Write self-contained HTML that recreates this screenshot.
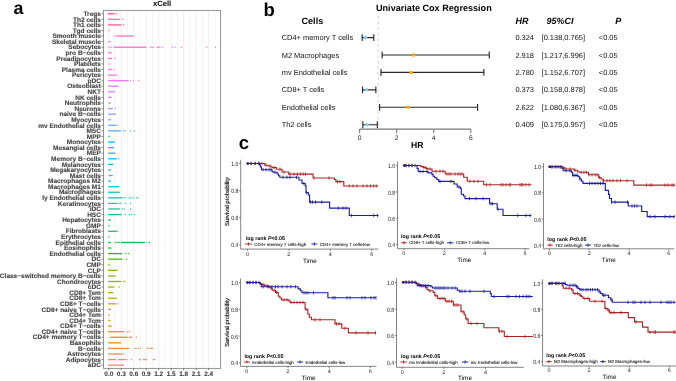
<!DOCTYPE html>
<html><head><meta charset="utf-8"><style>
html,body{margin:0;padding:0;background:#fff;overflow:hidden}
svg{display:block;will-change:transform}
text{text-rendering:geometricPrecision}
</style></head><body>
<svg width="676" height="381" viewBox="0 0 676 381">
<rect width="676" height="381" fill="#fff"/>
<g opacity="0.995">
<text x="13.5" y="13.7" font-size="17.8" font-weight="bold" font-family="Liberation Sans, sans-serif" fill="#000">a</text>
<text x="162.1" y="6.0" font-size="7.65" font-weight="bold" text-anchor="middle" font-family="Liberation Sans, sans-serif" fill="#000">xCell</text>
<line x1="108.80" y1="10.4" x2="108.80" y2="368.4" stroke="#EBEBEB" stroke-width="0.8"/><line x1="115.04" y1="10.4" x2="115.04" y2="368.4" stroke="#EBEBEB" stroke-width="0.5"/><line x1="121.28" y1="10.4" x2="121.28" y2="368.4" stroke="#EBEBEB" stroke-width="0.8"/><line x1="127.52" y1="10.4" x2="127.52" y2="368.4" stroke="#EBEBEB" stroke-width="0.5"/><line x1="133.76" y1="10.4" x2="133.76" y2="368.4" stroke="#EBEBEB" stroke-width="0.8"/><line x1="140.00" y1="10.4" x2="140.00" y2="368.4" stroke="#EBEBEB" stroke-width="0.5"/><line x1="146.24" y1="10.4" x2="146.24" y2="368.4" stroke="#EBEBEB" stroke-width="0.8"/><line x1="152.48" y1="10.4" x2="152.48" y2="368.4" stroke="#EBEBEB" stroke-width="0.5"/><line x1="158.72" y1="10.4" x2="158.72" y2="368.4" stroke="#EBEBEB" stroke-width="0.8"/><line x1="164.96" y1="10.4" x2="164.96" y2="368.4" stroke="#EBEBEB" stroke-width="0.5"/><line x1="171.20" y1="10.4" x2="171.20" y2="368.4" stroke="#EBEBEB" stroke-width="0.8"/><line x1="177.44" y1="10.4" x2="177.44" y2="368.4" stroke="#EBEBEB" stroke-width="0.5"/><line x1="183.68" y1="10.4" x2="183.68" y2="368.4" stroke="#EBEBEB" stroke-width="0.8"/><line x1="189.92" y1="10.4" x2="189.92" y2="368.4" stroke="#EBEBEB" stroke-width="0.5"/><line x1="196.16" y1="10.4" x2="196.16" y2="368.4" stroke="#EBEBEB" stroke-width="0.8"/><line x1="202.40" y1="10.4" x2="202.40" y2="368.4" stroke="#EBEBEB" stroke-width="0.5"/><line x1="208.64" y1="10.4" x2="208.64" y2="368.4" stroke="#EBEBEB" stroke-width="0.8"/><line x1="214.88" y1="10.4" x2="214.88" y2="368.4" stroke="#EBEBEB" stroke-width="0.5"/>
<rect x="108" y="13.10" width="6.50" height="1.3" fill="#F2457F" opacity="0.92"/>
<rect x="115.70" y="13.10" width="1.2" height="1.3" fill="#F2457F" opacity="0.85"/>
<rect x="108" y="18.68" width="11.90" height="1.3" fill="#F36C9E" opacity="0.92"/>
<rect x="122.30" y="18.68" width="1.2" height="1.3" fill="#F36C9E" opacity="0.85"/>
<rect x="108" y="24.26" width="13.60" height="1.3" fill="#F0508A" opacity="0.92"/>
<rect x="123.00" y="24.26" width="1.2" height="1.3" fill="#F0508A" opacity="0.85"/>
<rect x="108.3" y="29.83" width="1.10" height="1.3" fill="#FF68A1" opacity="0.92"/>
<rect x="115.8" y="35.41" width="17.70" height="1.3" fill="#FF65AD" opacity="0.92"/>
<rect x="113.90" y="35.41" width="1.2" height="1.3" fill="#FF65AD" opacity="0.85"/>
<rect x="108.3" y="40.99" width="2.20" height="1.3" fill="#FF63B8" opacity="0.92"/>
<rect x="113.6" y="46.57" width="32.90" height="1.3" fill="#FF61C2" opacity="0.92"/>
<rect x="108.60" y="46.57" width="1.2" height="1.3" fill="#FF61C2" opacity="0.85"/>
<rect x="110.70" y="46.57" width="1.2" height="1.3" fill="#FF61C2" opacity="0.85"/>
<rect x="150.00" y="46.57" width="1.2" height="1.3" fill="#FF61C2" opacity="0.85"/>
<rect x="151.40" y="46.57" width="1.2" height="1.3" fill="#FF61C2" opacity="0.85"/>
<rect x="153.00" y="46.57" width="1.2" height="1.3" fill="#FF61C2" opacity="0.85"/>
<rect x="156.50" y="46.57" width="1.2" height="1.3" fill="#FF61C2" opacity="0.85"/>
<rect x="157.90" y="46.57" width="1.2" height="1.3" fill="#FF61C2" opacity="0.85"/>
<rect x="159.20" y="46.57" width="1.2" height="1.3" fill="#FF61C2" opacity="0.85"/>
<rect x="161.90" y="46.57" width="1.2" height="1.3" fill="#FF61C2" opacity="0.85"/>
<rect x="171.60" y="46.57" width="1.2" height="1.3" fill="#FF61C2" opacity="0.85"/>
<rect x="174.30" y="46.57" width="1.2" height="1.3" fill="#FF61C2" opacity="0.85"/>
<rect x="181.00" y="46.57" width="1.2" height="1.3" fill="#FF61C2" opacity="0.85"/>
<rect x="206.30" y="46.57" width="1.2" height="1.3" fill="#FF61C2" opacity="0.85"/>
<rect x="214.80" y="46.57" width="1.2" height="1.3" fill="#FF61C2" opacity="0.85"/>
<rect x="108.3" y="52.15" width="3.40" height="1.3" fill="#FF61CC" opacity="0.92"/>
<rect x="108.3" y="57.72" width="3.90" height="1.3" fill="#FC61D5" opacity="0.92"/>
<rect x="114.50" y="57.72" width="1.2" height="1.3" fill="#FC61D5" opacity="0.85"/>
<rect x="108.3" y="63.30" width="1.40" height="1.3" fill="#F862DE" opacity="0.92"/>
<rect x="108.3" y="68.88" width="3.60" height="1.3" fill="#F365E6" opacity="0.92"/>
<rect x="113.10" y="68.88" width="1.2" height="1.3" fill="#F365E6" opacity="0.85"/>
<rect x="108.3" y="74.46" width="8.50" height="1.3" fill="#ED68ED" opacity="0.92"/>
<rect x="108.3" y="80.04" width="20.40" height="1.3" fill="#E66CF4" opacity="0.92"/>
<rect x="129.90" y="80.04" width="1.2" height="1.3" fill="#E66CF4" opacity="0.85"/>
<rect x="132.90" y="80.04" width="1.2" height="1.3" fill="#E66CF4" opacity="0.85"/>
<rect x="137.90" y="80.04" width="1.2" height="1.3" fill="#E66CF4" opacity="0.85"/>
<rect x="108.3" y="85.61" width="10.30" height="1.3" fill="#DD71FA" opacity="0.92"/>
<rect x="108.3" y="91.19" width="6.70" height="1.3" fill="#D376FF" opacity="0.92"/>
<rect x="108.3" y="96.77" width="3.60" height="1.3" fill="#C77CFF" opacity="0.92"/>
<rect x="108.3" y="102.35" width="2.70" height="1.3" fill="#BA82FF" opacity="0.92"/>
<rect x="108.3" y="107.93" width="4.50" height="1.3" fill="#AA88FF" opacity="0.92"/>
<rect x="114.80" y="107.93" width="1.2" height="1.3" fill="#AA88FF" opacity="0.85"/>
<rect x="108.3" y="113.50" width="7.50" height="1.3" fill="#998EFF" opacity="0.92"/>
<rect x="108.3" y="119.08" width="2.70" height="1.3" fill="#8494FF" opacity="0.92"/>
<rect x="108.3" y="124.66" width="8.00" height="1.3" fill="#6B9AFF" opacity="0.92"/>
<rect x="117.00" y="124.66" width="1.2" height="1.3" fill="#6B9AFF" opacity="0.85"/>
<rect x="108.3" y="130.24" width="12.50" height="1.3" fill="#49A0FF" opacity="0.92"/>
<rect x="122.80" y="130.24" width="1.2" height="1.3" fill="#49A0FF" opacity="0.85"/>
<rect x="124.60" y="130.24" width="1.2" height="1.3" fill="#49A0FF" opacity="0.85"/>
<rect x="129.90" y="130.24" width="1.2" height="1.3" fill="#49A0FF" opacity="0.85"/>
<rect x="134.00" y="130.24" width="1.2" height="1.3" fill="#49A0FF" opacity="0.85"/>
<rect x="108.3" y="135.82" width="1.40" height="1.3" fill="#00A5FF" opacity="0.92"/>
<rect x="108.3" y="141.39" width="6.80" height="1.3" fill="#00A9FF" opacity="0.92"/>
<rect x="108.3" y="146.97" width="5.70" height="1.3" fill="#00AEFA" opacity="0.92"/>
<rect x="108.3" y="152.55" width="6.80" height="1.3" fill="#00B1F4" opacity="0.92"/>
<rect x="108.3" y="158.13" width="8.50" height="1.3" fill="#00B5EE" opacity="0.92"/>
<rect x="118.00" y="158.13" width="1.2" height="1.3" fill="#00B5EE" opacity="0.85"/>
<rect x="108.3" y="163.71" width="5.00" height="1.3" fill="#00B8E7" opacity="0.92"/>
<rect x="108.3" y="169.28" width="2.70" height="1.3" fill="#00BADF" opacity="0.92"/>
<rect x="108.9" y="174.86" width="3.90" height="1.3" fill="#00BCD7" opacity="0.92"/>
<rect x="108.3" y="180.44" width="2.70" height="1.3" fill="#00BECE" opacity="0.92"/>
<rect x="108.3" y="186.02" width="11.00" height="1.3" fill="#00BFC4" opacity="0.92"/>
<rect x="108.3" y="191.60" width="11.60" height="1.3" fill="#00C0BB" opacity="0.92"/>
<rect x="108.3" y="197.17" width="14.20" height="1.3" fill="#00C0B0" opacity="0.92"/>
<rect x="123.40" y="197.17" width="1.2" height="1.3" fill="#00C0B0" opacity="0.85"/>
<rect x="125.10" y="197.17" width="1.2" height="1.3" fill="#00C0B0" opacity="0.85"/>
<rect x="128.70" y="197.17" width="1.2" height="1.3" fill="#00C0B0" opacity="0.85"/>
<rect x="130.40" y="197.17" width="1.2" height="1.3" fill="#00C0B0" opacity="0.85"/>
<rect x="132.60" y="197.17" width="1.2" height="1.3" fill="#00C0B0" opacity="0.85"/>
<rect x="135.80" y="197.17" width="1.2" height="1.3" fill="#00C0B0" opacity="0.85"/>
<rect x="137.90" y="197.17" width="1.2" height="1.3" fill="#00C0B0" opacity="0.85"/>
<rect x="108.3" y="202.75" width="9.30" height="1.3" fill="#00C1A6" opacity="0.92"/>
<rect x="118.70" y="202.75" width="1.2" height="1.3" fill="#00C1A6" opacity="0.85"/>
<rect x="120.20" y="202.75" width="1.2" height="1.3" fill="#00C1A6" opacity="0.85"/>
<rect x="125.10" y="202.75" width="1.2" height="1.3" fill="#00C1A6" opacity="0.85"/>
<rect x="129.90" y="202.75" width="1.2" height="1.3" fill="#00C1A6" opacity="0.85"/>
<rect x="108.3" y="208.33" width="11.60" height="1.3" fill="#00C19A" opacity="0.92"/>
<rect x="121.60" y="208.33" width="1.2" height="1.3" fill="#00C19A" opacity="0.85"/>
<rect x="123.70" y="208.33" width="1.2" height="1.3" fill="#00C19A" opacity="0.85"/>
<rect x="129.90" y="208.33" width="1.2" height="1.3" fill="#00C19A" opacity="0.85"/>
<rect x="108.3" y="213.91" width="13.30" height="1.3" fill="#00C08F" opacity="0.92"/>
<rect x="124.60" y="213.91" width="1.2" height="1.3" fill="#00C08F" opacity="0.85"/>
<rect x="128.70" y="213.91" width="1.2" height="1.3" fill="#00C08F" opacity="0.85"/>
<rect x="130.80" y="213.91" width="1.2" height="1.3" fill="#00C08F" opacity="0.85"/>
<rect x="134.00" y="213.91" width="1.2" height="1.3" fill="#00C08F" opacity="0.85"/>
<rect x="108.3" y="219.49" width="2.70" height="1.3" fill="#00C082" opacity="0.92"/>
<rect x="108.3" y="225.06" width="1.40" height="1.3" fill="#00BF75" opacity="0.92"/>
<rect x="108.3" y="230.64" width="9.30" height="1.3" fill="#00BE67" opacity="0.92"/>
<rect x="108.3" y="236.22" width="1.10" height="1.3" fill="#00BC58" opacity="0.92"/>
<rect x="108.1" y="241.80" width="2.90" height="1.3" fill="#00BB46" opacity="0.92"/>
<rect x="121.2" y="241.80" width="24.00" height="1.3" fill="#00BB46" opacity="0.92"/>
<rect x="114.80" y="241.80" width="1.2" height="1.3" fill="#00BB46" opacity="0.85"/>
<rect x="116.40" y="241.80" width="1.2" height="1.3" fill="#00BB46" opacity="0.85"/>
<rect x="117.80" y="241.80" width="1.2" height="1.3" fill="#00BB46" opacity="0.85"/>
<rect x="119.20" y="241.80" width="1.2" height="1.3" fill="#00BB46" opacity="0.85"/>
<rect x="146.30" y="241.80" width="1.2" height="1.3" fill="#00BB46" opacity="0.85"/>
<rect x="148.90" y="241.80" width="1.2" height="1.3" fill="#00BB46" opacity="0.85"/>
<rect x="108.3" y="247.38" width="3.20" height="1.3" fill="#00B930" opacity="0.92"/>
<rect x="108.3" y="252.95" width="13.90" height="1.3" fill="#0CB702" opacity="0.92"/>
<rect x="125.50" y="252.95" width="1.2" height="1.3" fill="#0CB702" opacity="0.85"/>
<rect x="128.10" y="252.95" width="1.2" height="1.3" fill="#0CB702" opacity="0.85"/>
<rect x="108.3" y="258.53" width="14.20" height="1.3" fill="#40B500" opacity="0.92"/>
<rect x="126.00" y="258.53" width="1.2" height="1.3" fill="#40B500" opacity="0.85"/>
<rect x="108.3" y="264.11" width="1.40" height="1.3" fill="#59B300" opacity="0.92"/>
<rect x="108.3" y="269.69" width="8.00" height="1.3" fill="#6CB100" opacity="0.92"/>
<rect x="116.60" y="269.69" width="1.2" height="1.3" fill="#6CB100" opacity="0.85"/>
<rect x="108.3" y="275.27" width="7.10" height="1.3" fill="#7CAE00" opacity="0.92"/>
<rect x="108.3" y="280.84" width="12.80" height="1.3" fill="#89AC00" opacity="0.92"/>
<rect x="122.80" y="280.84" width="1.2" height="1.3" fill="#89AC00" opacity="0.85"/>
<rect x="124.60" y="280.84" width="1.2" height="1.3" fill="#89AC00" opacity="0.85"/>
<rect x="108.3" y="286.42" width="6.20" height="1.3" fill="#96A900" opacity="0.92"/>
<rect x="118.70" y="286.42" width="1.2" height="1.3" fill="#96A900" opacity="0.85"/>
<rect x="108.3" y="292.00" width="5.00" height="1.3" fill="#A1A600" opacity="0.92"/>
<rect x="108.3" y="297.58" width="8.50" height="1.3" fill="#ABA300" opacity="0.92"/>
<rect x="108.3" y="303.16" width="8.00" height="1.3" fill="#B4A000" opacity="0.92"/>
<rect x="117.50" y="303.16" width="1.2" height="1.3" fill="#B4A000" opacity="0.85"/>
<rect x="108.3" y="308.73" width="2.70" height="1.3" fill="#BD9D00" opacity="0.92"/>
<rect x="108.3" y="314.31" width="1.40" height="1.3" fill="#C59900" opacity="0.92"/>
<rect x="108.3" y="319.89" width="2.20" height="1.3" fill="#CD9600" opacity="0.92"/>
<rect x="108.3" y="325.47" width="3.60" height="1.3" fill="#D49200" opacity="0.92"/>
<rect x="108.3" y="331.05" width="15.70" height="1.3" fill="#DA8E00" opacity="0.92"/>
<rect x="126.90" y="331.05" width="1.2" height="1.3" fill="#DA8E00" opacity="0.85"/>
<rect x="128.70" y="331.05" width="1.2" height="1.3" fill="#DA8E00" opacity="0.85"/>
<rect x="110.1" y="336.62" width="17.80" height="1.3" fill="#E08A00" opacity="0.92"/>
<rect x="128.70" y="336.62" width="1.2" height="1.3" fill="#E08A00" opacity="0.85"/>
<rect x="129.80" y="336.62" width="1.2" height="1.3" fill="#E08A00" opacity="0.85"/>
<rect x="130.80" y="336.62" width="1.2" height="1.3" fill="#E08A00" opacity="0.85"/>
<rect x="135.80" y="336.62" width="1.2" height="1.3" fill="#E08A00" opacity="0.85"/>
<rect x="108.3" y="342.20" width="12.80" height="1.3" fill="#E68613" opacity="0.92"/>
<rect x="108.1" y="347.78" width="21.40" height="1.3" fill="#EB8236" opacity="0.92"/>
<rect x="134.40" y="347.78" width="1.2" height="1.3" fill="#EB8236" opacity="0.85"/>
<rect x="135.60" y="347.78" width="1.2" height="1.3" fill="#EB8236" opacity="0.85"/>
<rect x="137.80" y="347.78" width="1.2" height="1.3" fill="#EB8236" opacity="0.85"/>
<rect x="140.00" y="347.78" width="1.2" height="1.3" fill="#EB8236" opacity="0.85"/>
<rect x="146.70" y="347.78" width="1.2" height="1.3" fill="#EB8236" opacity="0.85"/>
<rect x="147.40" y="347.78" width="1.2" height="1.3" fill="#EB8236" opacity="0.85"/>
<rect x="149.60" y="347.78" width="1.2" height="1.3" fill="#EB8236" opacity="0.85"/>
<rect x="150.90" y="347.78" width="1.2" height="1.3" fill="#EB8236" opacity="0.85"/>
<rect x="152.20" y="347.78" width="1.2" height="1.3" fill="#EB8236" opacity="0.85"/>
<rect x="108.3" y="353.36" width="14.20" height="1.3" fill="#F07E4C" opacity="0.92"/>
<rect x="122.80" y="353.36" width="1.2" height="1.3" fill="#F07E4C" opacity="0.85"/>
<rect x="108.3" y="358.94" width="8.00" height="1.3" fill="#F47A5D" opacity="0.92"/>
<rect x="118.1" y="358.94" width="8.00" height="1.3" fill="#F47A5D" opacity="0.92"/>
<rect x="126.90" y="358.94" width="1.2" height="1.3" fill="#F47A5D" opacity="0.85"/>
<rect x="130.80" y="358.94" width="1.2" height="1.3" fill="#F47A5D" opacity="0.85"/>
<rect x="138.80" y="358.94" width="1.2" height="1.3" fill="#F47A5D" opacity="0.85"/>
<rect x="139.70" y="358.94" width="1.2" height="1.3" fill="#F47A5D" opacity="0.85"/>
<rect x="142.40" y="358.94" width="1.2" height="1.3" fill="#F47A5D" opacity="0.85"/>
<rect x="143.60" y="358.94" width="1.2" height="1.3" fill="#F47A5D" opacity="0.85"/>
<rect x="144.80" y="358.94" width="1.2" height="1.3" fill="#F47A5D" opacity="0.85"/>
<rect x="145.90" y="358.94" width="1.2" height="1.3" fill="#F47A5D" opacity="0.85"/>
<rect x="153.00" y="358.94" width="1.2" height="1.3" fill="#F47A5D" opacity="0.85"/>
<rect x="153.90" y="358.94" width="1.2" height="1.3" fill="#F47A5D" opacity="0.85"/>
<rect x="108.3" y="364.51" width="15.70" height="1.3" fill="#F8766D" opacity="0.92"/>
<rect x="103.5" y="10.4" width="117.10" height="358.00" fill="none" stroke="#8A8A8A" stroke-width="0.9"/>
<path d="M101.4 13.75H103.5M101.4 19.33H103.5M101.4 24.91H103.5M101.4 30.48H103.5M101.4 36.06H103.5M101.4 41.64H103.5M101.4 47.22H103.5M101.4 52.80H103.5M101.4 58.37H103.5M101.4 63.95H103.5M101.4 69.53H103.5M101.4 75.11H103.5M101.4 80.69H103.5M101.4 86.26H103.5M101.4 91.84H103.5M101.4 97.42H103.5M101.4 103.00H103.5M101.4 108.58H103.5M101.4 114.15H103.5M101.4 119.73H103.5M101.4 125.31H103.5M101.4 130.89H103.5M101.4 136.47H103.5M101.4 142.04H103.5M101.4 147.62H103.5M101.4 153.20H103.5M101.4 158.78H103.5M101.4 164.36H103.5M101.4 169.93H103.5M101.4 175.51H103.5M101.4 181.09H103.5M101.4 186.67H103.5M101.4 192.25H103.5M101.4 197.82H103.5M101.4 203.40H103.5M101.4 208.98H103.5M101.4 214.56H103.5M101.4 220.14H103.5M101.4 225.71H103.5M101.4 231.29H103.5M101.4 236.87H103.5M101.4 242.45H103.5M101.4 248.03H103.5M101.4 253.60H103.5M101.4 259.18H103.5M101.4 264.76H103.5M101.4 270.34H103.5M101.4 275.92H103.5M101.4 281.49H103.5M101.4 287.07H103.5M101.4 292.65H103.5M101.4 298.23H103.5M101.4 303.81H103.5M101.4 309.38H103.5M101.4 314.96H103.5M101.4 320.54H103.5M101.4 326.12H103.5M101.4 331.70H103.5M101.4 337.27H103.5M101.4 342.85H103.5M101.4 348.43H103.5M101.4 354.01H103.5M101.4 359.59H103.5M101.4 365.16H103.5" stroke="#555" stroke-width="0.6"/>
<g font-size="6.52" font-weight="bold" text-anchor="end" font-family="Liberation Sans, sans-serif" fill="#444" stroke="#444" stroke-width="0.12"><text x="100.9" y="15.95">Tregs</text><text x="100.9" y="21.53">Th2 cells</text><text x="100.9" y="27.11">Th1 cells</text><text x="100.9" y="32.68">Tgd cells</text><text x="100.9" y="38.26">Smooth muscle</text><text x="100.9" y="43.84">Skeletal muscle</text><text x="100.9" y="49.42">Sebocytes</text><text x="100.9" y="55.00">pro B−cells</text><text x="100.9" y="60.57">Preadipocytes</text><text x="100.9" y="66.15">Platelets</text><text x="100.9" y="71.73">Plasma cells</text><text x="100.9" y="77.31">Pericytes</text><text x="100.9" y="82.89">pDC</text><text x="100.9" y="88.46">Osteoblast</text><text x="100.9" y="94.04">NKT</text><text x="100.9" y="99.62">NK cells</text><text x="100.9" y="105.20">Neutrophils</text><text x="100.9" y="110.78">Neurons</text><text x="100.9" y="116.35">naive B−cells</text><text x="100.9" y="121.93">Myocytes</text><text x="100.9" y="127.51">mv Endothelial cells</text><text x="100.9" y="133.09">MSC</text><text x="100.9" y="138.67">MPP</text><text x="100.9" y="144.24">Monocytes</text><text x="100.9" y="149.82">Mesangial cells</text><text x="100.9" y="155.40">MEP</text><text x="100.9" y="160.98">Memory B−cells</text><text x="100.9" y="166.56">Melanocytes</text><text x="100.9" y="172.13">Megakaryocytes</text><text x="100.9" y="177.71">Mast cells</text><text x="100.9" y="183.29">Macrophages M2</text><text x="100.9" y="188.87">Macrophages M1</text><text x="100.9" y="194.45">Macrophages</text><text x="100.9" y="200.02">ly Endothelial cells</text><text x="100.9" y="205.60">Keratinocytes</text><text x="100.9" y="211.18">iDC</text><text x="100.9" y="216.76">HSC</text><text x="100.9" y="222.34">Hepatocytes</text><text x="100.9" y="227.91">GMP</text><text x="100.9" y="233.49">Fibroblasts</text><text x="100.9" y="239.07">Erythrocytes</text><text x="100.9" y="244.65">Epithelial cells</text><text x="100.9" y="250.23">Eosinophils</text><text x="100.9" y="255.80">Endothelial cells</text><text x="100.9" y="261.38">DC</text><text x="100.9" y="266.96">CMP</text><text x="100.9" y="272.54">CLP</text><text x="100.9" y="278.12">Class−switched memory B−cells</text><text x="100.9" y="283.69">Chondrocytes</text><text x="100.9" y="289.27">cDC</text><text x="100.9" y="294.85">CD8+ Tem</text><text x="100.9" y="300.43">CD8+ Tcm</text><text x="100.9" y="306.01">CD8+ T−cells</text><text x="100.9" y="311.58">CD8+ naive T−cells</text><text x="100.9" y="317.16">CD4+ Tem</text><text x="100.9" y="322.74">CD4+ Tcm</text><text x="100.9" y="328.32">CD4+ T−cells</text><text x="100.9" y="333.90">CD4+ naive T−cells</text><text x="100.9" y="339.47">CD4+ memory T−cells</text><text x="100.9" y="345.05">Basophils</text><text x="100.9" y="350.63">B−cells</text><text x="100.9" y="356.21">Astrocytes</text><text x="100.9" y="361.79">Adipocytes</text><text x="100.9" y="367.36">aDC</text></g>
<line x1="108.80" y1="368.4" x2="108.80" y2="370.2" stroke="#333" stroke-width="0.6"/>
<line x1="121.28" y1="368.4" x2="121.28" y2="370.2" stroke="#333" stroke-width="0.6"/>
<line x1="133.76" y1="368.4" x2="133.76" y2="370.2" stroke="#333" stroke-width="0.6"/>
<line x1="146.24" y1="368.4" x2="146.24" y2="370.2" stroke="#333" stroke-width="0.6"/>
<line x1="158.72" y1="368.4" x2="158.72" y2="370.2" stroke="#333" stroke-width="0.6"/>
<line x1="171.20" y1="368.4" x2="171.20" y2="370.2" stroke="#333" stroke-width="0.6"/>
<line x1="183.68" y1="368.4" x2="183.68" y2="370.2" stroke="#333" stroke-width="0.6"/>
<line x1="196.16" y1="368.4" x2="196.16" y2="370.2" stroke="#333" stroke-width="0.6"/>
<line x1="208.64" y1="368.4" x2="208.64" y2="370.2" stroke="#333" stroke-width="0.6"/>
<g font-size="6.45" font-weight="bold" text-anchor="middle" font-family="Liberation Sans, sans-serif" fill="#444" stroke="#444" stroke-width="0.12"><text x="108.80" y="376.2">0.0</text><text x="121.28" y="376.2">0.3</text><text x="133.76" y="376.2">0.6</text><text x="146.24" y="376.2">0.9</text><text x="158.72" y="376.2">1.2</text><text x="171.20" y="376.2">1.5</text><text x="183.68" y="376.2">1.8</text><text x="196.16" y="376.2">2.1</text><text x="208.64" y="376.2">2.4</text></g>
<text x="263.5" y="15.6" font-size="18.5" font-weight="bold" font-family="Liberation Sans, sans-serif" fill="#000">b</text>
<text x="376" y="11" font-size="9.1" font-weight="bold" font-family="Liberation Sans, sans-serif" fill="#000">Univariate Cox Regression</text>
<text x="301.5" y="23.6" font-size="9.1" font-weight="bold" font-family="Liberation Sans, sans-serif" fill="#000">Cells</text>
<g font-size="9" font-weight="bold" font-style="italic" font-family="Liberation Sans, sans-serif" fill="#000"><text x="515.4" y="23.8">HR</text><text x="546.6" y="23.8">95%CI</text><text x="615.2" y="23.8">P</text></g>
<line x1="378.13" y1="16" x2="378.13" y2="128.8" stroke="#BDBDBD" stroke-width="0.7" stroke-dasharray="2.7 2.9"/>
<path d="M362.16 37.60H373.78M362.16 34.20V41.00M373.78 34.20V41.00" stroke="#2A2A2A" stroke-width="1.15" fill="none"/>
<circle cx="365.60" cy="37.60" r="1.8" fill="#87CEEB"/>
<path d="M382.15 55.02H489.24M382.15 51.62V58.42M489.24 51.62V58.42" stroke="#2A2A2A" stroke-width="1.15" fill="none"/>
<circle cx="413.67" cy="55.02" r="1.8" fill="#FFA500"/>
<path d="M380.95 72.44H483.88M380.95 69.04V75.84M483.88 69.04V75.84" stroke="#2A2A2A" stroke-width="1.15" fill="none"/>
<circle cx="411.11" cy="72.44" r="1.8" fill="#FFA500"/>
<path d="M362.53 89.86H375.87M362.53 86.46V93.26M375.87 86.46V93.26" stroke="#2A2A2A" stroke-width="1.15" fill="none"/>
<circle cx="366.51" cy="89.86" r="1.8" fill="#87CEEB"/>
<path d="M379.61 107.28H477.58M379.61 103.88V110.68M477.58 103.88V110.68" stroke="#2A2A2A" stroke-width="1.15" fill="none"/>
<circle cx="408.19" cy="107.28" r="1.8" fill="#FFA500"/>
<path d="M362.84 124.70H377.33M362.84 121.30V128.10M377.33 121.30V128.10" stroke="#2A2A2A" stroke-width="1.15" fill="none"/>
<circle cx="367.18" cy="124.70" r="1.8" fill="#87CEEB"/>
<g font-size="7.45" font-family="Liberation Sans, sans-serif" fill="#111"><text x="281.7" y="40.10">CD4+ memory T cells</text><text x="515.4" y="40.10">0.324</text><text x="541.6" y="40.10">[0.138,0.765]</text><text x="598.8" y="40.10">&lt;0.05</text><text x="281.7" y="57.52">M2 Macrophages</text><text x="515.4" y="57.52">2.918</text><text x="541.6" y="57.52">[1.217,6.996]</text><text x="598.8" y="57.52">&lt;0.05</text><text x="281.7" y="74.94">mv Endothelial cells</text><text x="515.4" y="74.94">2.780</text><text x="541.6" y="74.94">[1.152,6.707]</text><text x="598.8" y="74.94">&lt;0.05</text><text x="281.7" y="92.36">CD8+ T cells</text><text x="515.4" y="92.36">0.373</text><text x="541.6" y="92.36">[0.158,0.878]</text><text x="598.8" y="92.36">&lt;0.05</text><text x="281.7" y="109.78">Endothelial cells</text><text x="515.4" y="109.78">2.622</text><text x="541.6" y="109.78">[1.080,6.367]</text><text x="598.8" y="109.78">&lt;0.05</text><text x="281.7" y="127.20">Th2 cells</text><text x="515.4" y="127.20">0.409</text><text x="541.6" y="127.20">[0.175,0.957]</text><text x="598.8" y="127.20">&lt;0.05</text></g>
<path d="M359.60 129.1H470.78M359.60 129.1V133.3M396.66 129.1V133.3M433.72 129.1V133.3M470.78 129.1V133.3" stroke="#7A7A7A" stroke-width="1.1" fill="none"/>
<g font-size="6.7" text-anchor="middle" font-family="Liberation Sans, sans-serif" fill="#222"><text x="359.60" y="140.2">0</text><text x="396.66" y="140.2">2</text><text x="433.72" y="140.2">4</text><text x="470.78" y="140.2">6</text></g>
<text x="417.2" y="148.2" font-size="8.6" font-weight="bold" text-anchor="middle" font-family="Liberation Sans, sans-serif" fill="#000">HR</text>
<text x="238.8" y="149.1" font-size="18.5" font-weight="bold" font-family="Liberation Sans, sans-serif" fill="#000">c</text>
<path d="M240.7 159.8V249.1H378.4" stroke="#808080" stroke-width="0.95" fill="none"/><path d="M239.1 163.50H240.7M239.1 190.60H240.7M239.1 217.70H240.7M239.1 244.80H240.7M247.50 249.1V250.7M288.90 249.1V250.7M330.30 249.1V250.7M371.70 249.1V250.7" stroke="#333" stroke-width="0.6"/><g font-size="6.1" font-family="Liberation Sans, sans-serif" fill="#1A1A1A"><text x="231.30" y="166.00" textLength="7.1" lengthAdjust="spacingAndGlyphs">1.0</text><text x="231.30" y="193.10" textLength="7.1" lengthAdjust="spacingAndGlyphs">0.8</text><text x="231.30" y="220.20" textLength="7.1" lengthAdjust="spacingAndGlyphs">0.6</text><text x="231.30" y="247.30" textLength="7.1" lengthAdjust="spacingAndGlyphs">0.4</text></g><g font-size="5.5" text-anchor="middle" font-family="Liberation Sans, sans-serif" fill="#222"><text x="247.50" y="255.50">0</text><text x="288.90" y="255.50">2</text><text x="330.30" y="255.50">4</text><text x="371.70" y="255.50">6</text></g><text x="309.9" y="262.60" font-size="6.35" text-anchor="middle" font-family="Liberation Sans, sans-serif" fill="#000">Time</text><text transform="translate(228.6 201.60) rotate(-90)" font-size="5.8" text-anchor="middle" font-family="Liberation Sans, sans-serif" fill="#111" stroke="#111" stroke-width="0.15">Survival probability</text><path d="M247.5 163.5H264.8V165.2H268.2V166H271V167H272.3V167.6H276.4V169.3H282V172H288.7V174.1H313.1V178H334.3V179.5H335.9V181.6H343.8V186H378.4V186" stroke="#AA2424" stroke-width="1.12" fill="none"/><path d="M251 161.80v3.4M255 161.80v3.4M258.5 161.80v3.4M262 161.80v3.4M266 163.50v3.4M270 164.30v3.4M274 165.90v3.4M280 167.60v3.4M284 170.30v3.4M290.2 172.40v3.4M294 172.40v3.4M297.5 172.40v3.4M300.5 172.40v3.4M303.2 172.40v3.4M305.5 172.40v3.4M314 176.30v3.4M329 176.30v3.4M337.5 179.90v3.4M340 179.90v3.4M349.3 184.30v3.4M353 184.30v3.4M357 184.30v3.4M363 184.30v3.4M367 184.30v3.4M370.5 184.30v3.4M373.7 184.30v3.4M376.3 184.30v3.4" stroke="#AA2424" stroke-width="0.8" fill="none"/><circle cx="247.8" cy="163.5" r="1.25" fill="#AA2424"/><path d="M247.5 163.5H259.7V165H260.5V167H261.5V169.7H272V171.2H273V172.3H277.1V174H278.5V175.8H279.8V177.3H298.9V180H302V183.5H305.2V185.6H306V192.6H308.3V195H309.6V202.1H329.6V208.1H349.3V215.5H378.4V215.5" stroke="#1C1C9C" stroke-width="1.12" fill="none"/><path d="M251.1 161.80v3.4M255.2 161.80v3.4M259.3 161.80v3.4M263 168.00v3.4M266 168.00v3.4M269 168.00v3.4M271 168.00v3.4M275 170.60v3.4M283 175.60v3.4M287 175.60v3.4M290 175.60v3.4M296.5 175.60v3.4M303.8 181.80v3.4M306.5 190.90v3.4M310.5 200.40v3.4M312.5 200.40v3.4M315.5 200.40v3.4M321.8 200.40v3.4M338.3 206.40v3.4M343 206.40v3.4M346 206.40v3.4M351.6 213.80v3.4M373.7 213.80v3.4M377.6 213.80v3.4" stroke="#1C1C9C" stroke-width="0.8" fill="none"/><circle cx="247.8" cy="163.5" r="1.25" fill="#1C1C9C"/><text x="245.9" y="239.6" font-size="5.3" font-weight="bold" font-family="Liberation Sans, sans-serif" fill="#000">log rank <tspan font-style="italic">P</tspan>&lt;0.05</text><path d="M245.1 244.0H251.9M248.50 242.50v3" stroke="#AA2424" stroke-width="0.95"/><path d="M311.4 244.0H317.3M314.35 242.50v3" stroke="#1C1C9C" stroke-width="0.95"/><g font-size="4.4" font-family="Liberation Sans, sans-serif" fill="#111" stroke="#111" stroke-width="0.08"><text x="254.3" y="245.6">CD4+ memory T cells-high</text><text x="319.7" y="245.6">CD4+ memory T cells-low</text></g>
<path d="M397.5 161.5V248.7H529.4" stroke="#808080" stroke-width="0.95" fill="none"/><path d="M395.9 165.70H397.5M395.9 192.00H397.5M395.9 218.30H397.5M395.9 244.60H397.5M403.90 248.7V250.29999999999998M444.30 248.7V250.29999999999998M484.70 248.7V250.29999999999998M525.10 248.7V250.29999999999998" stroke="#333" stroke-width="0.6"/><g font-size="6.1" font-family="Liberation Sans, sans-serif" fill="#1A1A1A"><text x="388.10" y="168.20" textLength="7.1" lengthAdjust="spacingAndGlyphs">1.0</text><text x="388.10" y="194.50" textLength="7.1" lengthAdjust="spacingAndGlyphs">0.8</text><text x="388.10" y="220.80" textLength="7.1" lengthAdjust="spacingAndGlyphs">0.6</text><text x="388.10" y="247.10" textLength="7.1" lengthAdjust="spacingAndGlyphs">0.4</text></g><g font-size="5.5" text-anchor="middle" font-family="Liberation Sans, sans-serif" fill="#222"><text x="403.90" y="255.10">0</text><text x="444.30" y="255.10">2</text><text x="484.70" y="255.10">4</text><text x="525.10" y="255.10">6</text></g><text x="464.3" y="261.50" font-size="6.35" text-anchor="middle" font-family="Liberation Sans, sans-serif" fill="#000">Time</text><path d="M404 165.5H421V166.6H423.2V167.4H425.9V168.5H428.1V169H432V171.2H445.2V174H463.7V177.2H467.3V181.3H483.7V184.8H531.4V184.8" stroke="#AA2424" stroke-width="1.12" fill="none"/><path d="M406 163.80v3.4M409 163.80v3.4M412 163.80v3.4M424 165.70v3.4M427 166.80v3.4M430 167.30v3.4M436 169.50v3.4M440 169.50v3.4M443 169.50v3.4M447 172.30v3.4M449 172.30v3.4M451 172.30v3.4M455 172.30v3.4M458 172.30v3.4M460 172.30v3.4M462 172.30v3.4M470 179.60v3.4M474 179.60v3.4M478 179.60v3.4M486.5 183.10v3.4M490 183.10v3.4M501 183.10v3.4M503 183.10v3.4M506 183.10v3.4M509 183.10v3.4M510.5 183.10v3.4M520 183.10v3.4M521.5 183.10v3.4M523 183.10v3.4M526 183.10v3.4M529 183.10v3.4" stroke="#AA2424" stroke-width="0.8" fill="none"/><circle cx="404.3" cy="165.5" r="1.25" fill="#AA2424"/><path d="M404 165.5H417.1V168.5H418.2V171.5H428.1V172.9H432V174.5H433.1V176.2H434.7V177.8H436.9V179.5H438.6V181.4H454V184H457.2V187H460.5V188.5H461.3V194.2H463.5V196H465V198.6H489.6V203.7H497.2V209.2H503V215.5H531.4V215.5" stroke="#1C1C9C" stroke-width="1.12" fill="none"/><path d="M406 163.80v3.4M409 163.80v3.4M412 163.80v3.4M415 163.80v3.4M420 169.80v3.4M423 169.80v3.4M427 169.80v3.4M440 179.70v3.4M451 179.70v3.4M459 185.30v3.4M469.5 196.90v3.4M476 196.90v3.4M483 196.90v3.4M491 202.00v3.4M492.5 202.00v3.4M498 207.50v3.4M517.7 213.80v3.4M526 213.80v3.4M530 213.80v3.4" stroke="#1C1C9C" stroke-width="0.8" fill="none"/><circle cx="404.3" cy="165.5" r="1.25" fill="#1C1C9C"/><text x="401.1" y="237.9" font-size="5.3" font-weight="bold" font-family="Liberation Sans, sans-serif" fill="#000">log rank <tspan font-style="italic">P</tspan>&lt;0.05</text><path d="M401.1 242.8H406.8M403.95 241.30v3" stroke="#AA2424" stroke-width="0.95"/><path d="M447 242.8H453.6M450.30 241.30v3" stroke="#1C1C9C" stroke-width="0.95"/><g font-size="4.4" font-family="Liberation Sans, sans-serif" fill="#111" stroke="#111" stroke-width="0.08"><text x="409.2" y="244.4">CD8+ T cells-high</text><text x="456.0" y="244.4">CD8+ T cells-low</text></g>
<path d="M543.5 163.1V248.8H674.3" stroke="#808080" stroke-width="0.95" fill="none"/><path d="M541.9 166.80H543.5M541.9 192.90H543.5M541.9 219.00H543.5M541.9 245.10H543.5M549.40 248.8V250.4M589.20 248.8V250.4M629.00 248.8V250.4M668.80 248.8V250.4" stroke="#333" stroke-width="0.6"/><g font-size="6.1" font-family="Liberation Sans, sans-serif" fill="#1A1A1A"><text x="534.10" y="169.30" textLength="7.1" lengthAdjust="spacingAndGlyphs">1.0</text><text x="534.10" y="195.40" textLength="7.1" lengthAdjust="spacingAndGlyphs">0.8</text><text x="534.10" y="221.50" textLength="7.1" lengthAdjust="spacingAndGlyphs">0.6</text><text x="534.10" y="247.60" textLength="7.1" lengthAdjust="spacingAndGlyphs">0.4</text></g><g font-size="5.5" text-anchor="middle" font-family="Liberation Sans, sans-serif" fill="#222"><text x="549.40" y="255.20">0</text><text x="589.20" y="255.20">2</text><text x="629.00" y="255.20">4</text><text x="668.80" y="255.20">6</text></g><text x="608.8" y="261.80" font-size="6.35" text-anchor="middle" font-family="Liberation Sans, sans-serif" fill="#000">Time</text><path d="M549.4 166.8H563.2V167.9H564.8V169H574.2V170.3H577.5V171.8H579.2V172.3H588.5V174.8H598.7V177.5H601V179H603V180.7H633.8V185.1H674.7V185.1" stroke="#AA2424" stroke-width="1.12" fill="none"/><path d="M552 165.10v3.4M556 165.10v3.4M560 165.10v3.4M566 167.30v3.4M570 167.30v3.4M575 168.60v3.4M581 170.60v3.4M584 170.60v3.4M586.5 170.60v3.4M589 173.10v3.4M592 173.10v3.4M595 173.10v3.4M597 173.10v3.4M599.5 175.80v3.4M603.5 179.00v3.4M607 179.00v3.4M610 179.00v3.4M613 179.00v3.4M617 179.00v3.4M620.5 179.00v3.4M627 179.00v3.4M646.5 183.40v3.4M650 183.40v3.4M652 183.40v3.4M665 183.40v3.4M668 183.40v3.4M672 183.40v3.4M674 183.40v3.4" stroke="#AA2424" stroke-width="0.8" fill="none"/><circle cx="549.6999999999999" cy="166.8" r="1.25" fill="#AA2424"/><path d="M549.4 166.8H562.1V168.5H563.2V170.7H571.5V172.3H572.6V175.4H578.1V176.7H579.7V179H581.4V181.2H583V183.4H605.3V190.4H608.5V194.4H609.5V198.5H611.5V202.1H628.3V206H641.7V211.5H647.2V216.6H674.7V216.6" stroke="#1C1C9C" stroke-width="1.12" fill="none"/><path d="M552 165.10v3.4M555 165.10v3.4M558 165.10v3.4M561 165.10v3.4M566 169.00v3.4M570 169.00v3.4M573 173.70v3.4M575 173.70v3.4M577 173.70v3.4M580 177.30v3.4M589.5 181.70v3.4M592 181.70v3.4M595 181.70v3.4M598 181.70v3.4M600.5 181.70v3.4M603 181.70v3.4M611.5 200.40v3.4M615 200.40v3.4M627.5 200.40v3.4M632 204.30v3.4M634.5 204.30v3.4M637 204.30v3.4M650 214.90v3.4M655 214.90v3.4M665 214.90v3.4M670 214.90v3.4M674 214.90v3.4" stroke="#1C1C9C" stroke-width="0.8" fill="none"/><circle cx="549.6999999999999" cy="166.8" r="1.25" fill="#1C1C9C"/><text x="547.3" y="240.8" font-size="5.3" font-weight="bold" font-family="Liberation Sans, sans-serif" fill="#000">log rank <tspan font-style="italic">P</tspan>&lt;0.05</text><path d="M547.3 245.1H552.7M550.00 243.60v3" stroke="#AA2424" stroke-width="0.95"/><path d="M585 245.1H591M588.00 243.60v3" stroke="#1C1C9C" stroke-width="0.95"/><g font-size="4.4" font-family="Liberation Sans, sans-serif" fill="#111" stroke="#111" stroke-width="0.08"><text x="555.1" y="246.7">Th2 cells-high</text><text x="593.4" y="246.7">Th2 cells-low</text></g>
<path d="M240.5 278.5V366.4H376.5" stroke="#808080" stroke-width="0.95" fill="none"/><path d="M238.9 282.70H240.5M238.9 309.40H240.5M238.9 336.10H240.5M238.9 362.80H240.5M246.80 366.4V368.0M288.00 366.4V368.0M329.20 366.4V368.0M370.40 366.4V368.0" stroke="#333" stroke-width="0.6"/><g font-size="6.1" font-family="Liberation Sans, sans-serif" fill="#1A1A1A"><text x="231.10" y="285.20" textLength="7.1" lengthAdjust="spacingAndGlyphs">1.0</text><text x="231.10" y="311.90" textLength="7.1" lengthAdjust="spacingAndGlyphs">0.8</text><text x="231.10" y="338.60" textLength="7.1" lengthAdjust="spacingAndGlyphs">0.6</text><text x="231.10" y="365.30" textLength="7.1" lengthAdjust="spacingAndGlyphs">0.4</text></g><g font-size="5.5" text-anchor="middle" font-family="Liberation Sans, sans-serif" fill="#222"><text x="246.80" y="372.80">0</text><text x="288.00" y="372.80">2</text><text x="329.20" y="372.80">4</text><text x="370.40" y="372.80">6</text></g><text x="308.6" y="379.70" font-size="6.35" text-anchor="middle" font-family="Liberation Sans, sans-serif" fill="#000">Time</text><text transform="translate(228.6 322.40) rotate(-90)" font-size="5.8" text-anchor="middle" font-family="Liberation Sans, sans-serif" fill="#111" stroke="#111" stroke-width="0.15">Survival probability</text><path d="M247.2 282.5H260.1V283.8H261.7V284.5H264.5V285.8H268.4V286.9H271.1V288.6H272.2V290.2H275.5V292.4H278.3V296.3H279.9V298H281.6V299.9H288.8V301H290.2V302.5H305.1V309.3H307.8V314H309.3V317.2H311.4V319.8H335V323.9H341.8V328.2H348.4V332.9H376V332.9" stroke="#AA2424" stroke-width="1.12" fill="none"/><path d="M250 280.80v3.4M253 280.80v3.4M256 280.80v3.4M263 282.80v3.4M267 284.10v3.4M270 285.20v3.4M274 288.50v3.4M276.5 290.70v3.4M284 298.20v3.4M287 298.20v3.4M291 300.80v3.4M294 300.80v3.4M297 300.80v3.4M300 300.80v3.4M303 300.80v3.4M306 307.60v3.4M315 318.10v3.4M320 318.10v3.4M336.5 322.20v3.4M339 322.20v3.4M345 326.50v3.4M356 331.20v3.4M368 331.20v3.4M375.5 331.20v3.4" stroke="#AA2424" stroke-width="0.8" fill="none"/><circle cx="247.5" cy="282.5" r="1.25" fill="#AA2424"/><path d="M247.2 282.5H260.1V284H261.2V286.7H298.1V288.9H300.3V290.8H302V292.8H327.9V297.8H376V297.8" stroke="#1C1C9C" stroke-width="1.12" fill="none"/><path d="M250 280.80v3.4M253 280.80v3.4M256 280.80v3.4M259 280.80v3.4M263 285.00v3.4M268 285.00v3.4M272 285.00v3.4M275.5 285.00v3.4M278 285.00v3.4M282 285.00v3.4M287 285.00v3.4M291 285.00v3.4M295.5 285.00v3.4M304 291.10v3.4M306 291.10v3.4M308 291.10v3.4M313.5 291.10v3.4M333 296.10v3.4M335 296.10v3.4M347 296.10v3.4M350 296.10v3.4M362 296.10v3.4M365 296.10v3.4M371 296.10v3.4M374 296.10v3.4M376 296.10v3.4" stroke="#1C1C9C" stroke-width="0.8" fill="none"/><circle cx="247.5" cy="282.5" r="1.25" fill="#1C1C9C"/><text x="244.4" y="357.5" font-size="5.3" font-weight="bold" font-family="Liberation Sans, sans-serif" fill="#000">log rank <tspan font-style="italic">P</tspan>&lt;0.05</text><path d="M243.9 362.0H249.9M246.90 360.50v3" stroke="#AA2424" stroke-width="0.95"/><path d="M297.2 362.0H303.1M300.15 360.50v3" stroke="#1C1C9C" stroke-width="0.95"/><g font-size="4.4" font-family="Liberation Sans, sans-serif" fill="#111" stroke="#111" stroke-width="0.08"><text x="252.3" y="363.6">Endothelial cells-high</text><text x="305.5" y="363.6">Endothelial cells-low</text></g>
<path d="M396.5 278.5V367.3H523.8" stroke="#808080" stroke-width="0.95" fill="none"/><path d="M394.9 282.50H396.5M394.9 309.07H396.5M394.9 335.63H396.5M394.9 362.20H396.5M402.30 367.3V368.90000000000003M443.90 367.3V368.90000000000003M485.50 367.3V368.90000000000003" stroke="#333" stroke-width="0.6"/><g font-size="6.1" font-family="Liberation Sans, sans-serif" fill="#1A1A1A"><text x="387.10" y="285.00" textLength="7.1" lengthAdjust="spacingAndGlyphs">1.0</text><text x="387.10" y="311.57" textLength="7.1" lengthAdjust="spacingAndGlyphs">0.8</text><text x="387.10" y="338.13" textLength="7.1" lengthAdjust="spacingAndGlyphs">0.6</text><text x="387.10" y="364.70" textLength="7.1" lengthAdjust="spacingAndGlyphs">0.4</text></g><g font-size="5.5" text-anchor="middle" font-family="Liberation Sans, sans-serif" fill="#222"><text x="402.30" y="373.70">0</text><text x="443.90" y="373.70">2</text><text x="485.50" y="373.70">4</text></g><text x="465" y="380.30" font-size="6.35" text-anchor="middle" font-family="Liberation Sans, sans-serif" fill="#000">Time</text><path d="M402.9 282.2H416.1V283.4H418.3V284.5H420.5V285.8H425.5V287.5H427.1V289.7H428.8V290.8H433.2V292.4H434.8V295.7H437.6V298.5H445.3V301.3H453.3V305H461V311.7H464.2V314.8H465.7V319H468.1V323.5H483.9V327.7H498.8V331.3H504.3V336.5H532.8V336.5" stroke="#AA2424" stroke-width="1.12" fill="none"/><path d="M406 280.50v3.4M409 280.50v3.4M412 280.50v3.4M419 282.80v3.4M421.5 284.10v3.4M424 284.10v3.4M426 285.80v3.4M430 289.10v3.4M436 294.00v3.4M440 296.80v3.4M442 296.80v3.4M444 296.80v3.4M447 299.60v3.4M449 299.60v3.4M451.5 299.60v3.4M454 303.30v3.4M456 303.30v3.4M458 303.30v3.4M463 310.00v3.4M467 317.30v3.4M471 321.80v3.4M477 321.80v3.4M499.5 329.60v3.4M502 329.60v3.4M507 334.80v3.4M525 334.80v3.4" stroke="#AA2424" stroke-width="0.8" fill="none"/><circle cx="403.2" cy="282.2" r="1.25" fill="#AA2424"/><path d="M402.9 282.2H416.1V283.8H417.2V285.6H431V286.7H432.6V288H457.2V290.2H459.1V291.3H490.2V293.5H491.3V296.5H532.8V296.5" stroke="#1C1C9C" stroke-width="1.12" fill="none"/><path d="M406 280.50v3.4M409 280.50v3.4M412 280.50v3.4M415 280.50v3.4M420 283.90v3.4M423 283.90v3.4M425.5 283.90v3.4M428 283.90v3.4M435 286.30v3.4M437 286.30v3.4M439 286.30v3.4M441 286.30v3.4M443 286.30v3.4M445 286.30v3.4M448 286.30v3.4M452 286.30v3.4M455 286.30v3.4M460 289.60v3.4M462 289.60v3.4M465 289.60v3.4M470 289.60v3.4M484 289.60v3.4M494 294.80v3.4M507 294.80v3.4M509 294.80v3.4M516 294.80v3.4M519.5 294.80v3.4M523 294.80v3.4M526 294.80v3.4M528 294.80v3.4M530 294.80v3.4" stroke="#1C1C9C" stroke-width="0.8" fill="none"/><circle cx="403.2" cy="282.2" r="1.25" fill="#1C1C9C"/><text x="401.1" y="357.5" font-size="5.3" font-weight="bold" font-family="Liberation Sans, sans-serif" fill="#000">log rank <tspan font-style="italic">P</tspan>&lt;0.05</text><path d="M400.4 362.0H406.8M403.60 360.50v3" stroke="#AA2424" stroke-width="0.95"/><path d="M461.9 362.0H468.3M465.10 360.50v3" stroke="#1C1C9C" stroke-width="0.95"/><g font-size="4.4" font-family="Liberation Sans, sans-serif" fill="#111" stroke="#111" stroke-width="0.08"><text x="409.2" y="363.6">mv Endothelial cells-high</text><text x="470.7" y="363.6">mv Endothelial cells-low</text></g>
<path d="M542.6 279.4V366.0H676" stroke="#808080" stroke-width="0.95" fill="none"/><path d="M541.0 283.10H542.6M541.0 309.27H542.6M541.0 335.43H542.6M541.0 361.60H542.6M549.00 366.0V367.6M589.10 366.0V367.6M629.20 366.0V367.6M669.30 366.0V367.6" stroke="#333" stroke-width="0.6"/><g font-size="6.1" font-family="Liberation Sans, sans-serif" fill="#1A1A1A"><text x="533.20" y="285.60" textLength="7.1" lengthAdjust="spacingAndGlyphs">1.0</text><text x="533.20" y="311.77" textLength="7.1" lengthAdjust="spacingAndGlyphs">0.8</text><text x="533.20" y="337.93" textLength="7.1" lengthAdjust="spacingAndGlyphs">0.6</text><text x="533.20" y="364.10" textLength="7.1" lengthAdjust="spacingAndGlyphs">0.4</text></g><g font-size="5.5" text-anchor="middle" font-family="Liberation Sans, sans-serif" fill="#222"><text x="549.00" y="372.40">0</text><text x="589.10" y="372.40">2</text><text x="629.20" y="372.40">4</text><text x="669.30" y="372.40">6</text></g><text x="609.5" y="378.90" font-size="6.35" text-anchor="middle" font-family="Liberation Sans, sans-serif" fill="#000">Time</text><path d="M549.2 283.4H562.1V285.8H563.2V288.2H571.5V289.7H573.1V293.5H579.2V295.2H581.4V296.8H583V298.5H589.7V301.3H604.9V308.5H607.8V310.4H609.4V312.6H628.3V317.6H634.6V321.9H642.5V327.1H648V332.1H675.5V332.1" stroke="#AA2424" stroke-width="1.12" fill="none"/><path d="M552 281.70v3.4M556 281.70v3.4M558 281.70v3.4M566 286.50v3.4M569 286.50v3.4M572 288.00v3.4M575 291.80v3.4M577.5 291.80v3.4M580.5 293.50v3.4M585 296.80v3.4M588 296.80v3.4M595 299.60v3.4M602 299.60v3.4M606 306.80v3.4M609 308.70v3.4M611 310.90v3.4M614 310.90v3.4M621 310.90v3.4M636 320.20v3.4M650 330.40v3.4M654 330.40v3.4M655.5 330.40v3.4M674 330.40v3.4M675 330.40v3.4" stroke="#AA2424" stroke-width="0.8" fill="none"/><circle cx="549.5" cy="283.4" r="1.25" fill="#AA2424"/><path d="M549.2 283.4H565.4V284.5H567V285.3H576.4V286.9H578.1V288.6H579.7V289.7H599V292H600.7V293.5H602.3V295.2H608.5V297.8H610.8V300H612.3V302.3H675.5V302.3" stroke="#1C1C9C" stroke-width="1.12" fill="none"/><path d="M552 281.70v3.4M556 281.70v3.4M559 281.70v3.4M563 281.70v3.4M565 281.70v3.4M570 283.60v3.4M573 283.60v3.4M575 283.60v3.4M577 285.20v3.4M581 288.00v3.4M583 288.00v3.4M586 288.00v3.4M588 288.00v3.4M590.5 288.00v3.4M592.5 288.00v3.4M595 288.00v3.4M597.5 288.00v3.4M600 290.30v3.4M603.5 293.50v3.4M605 293.50v3.4M612 298.30v3.4M628 300.60v3.4M633 300.60v3.4M635 300.60v3.4M641 300.60v3.4M645 300.60v3.4M650 300.60v3.4M661 300.60v3.4M667 300.60v3.4M669 300.60v3.4M671 300.60v3.4M674 300.60v3.4" stroke="#1C1C9C" stroke-width="0.8" fill="none"/><circle cx="549.5" cy="283.4" r="1.25" fill="#1C1C9C"/><text x="546.2" y="357.3" font-size="5.3" font-weight="bold" font-family="Liberation Sans, sans-serif" fill="#000">log rank <tspan font-style="italic">P</tspan>&lt;0.05</text><path d="M546.2 361.6H551.6M548.90 360.10v3" stroke="#AA2424" stroke-width="0.95"/><path d="M600.2 361.6H605.6M602.90 360.10v3" stroke="#1C1C9C" stroke-width="0.95"/><g font-size="4.4" font-family="Liberation Sans, sans-serif" fill="#111" stroke="#111" stroke-width="0.08"><text x="554.0" y="363.20000000000005">M2 Macrophages-high</text><text x="608.0" y="363.20000000000005">M2 Macrophages-low</text></g>
</g>
</svg>
</body></html>
